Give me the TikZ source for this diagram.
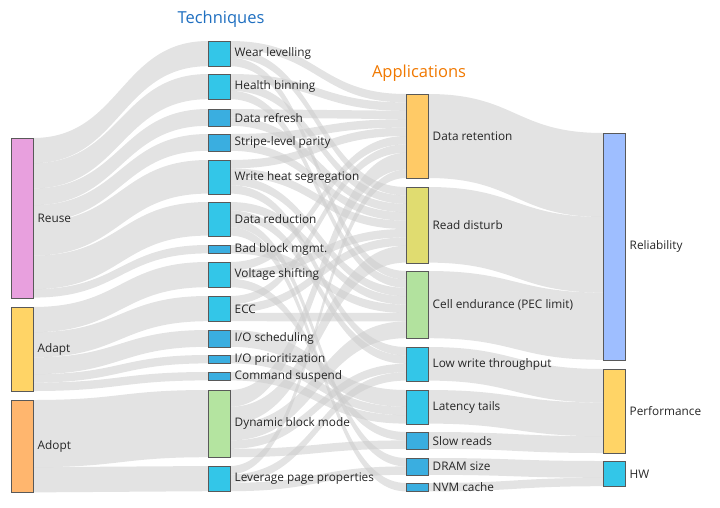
\documentclass[tikz,border=0pt]{standalone}
\usepackage{fontspec}
\setmainfont{Open Sans}
\begin{document}
\begin{tikzpicture}[x=1pt,y=-1pt,
 link/.style={fill=gray!40,opacity=0.55},
 box/.style={draw=black!65,line width=0.5pt,inner sep=0pt,minimum width=22pt,anchor=north west},
 lbl/.style={anchor=west,font=\fontsize{11.8}{13}\selectfont,text=black!85,inner sep=0pt,xshift=4pt}]
\useasboundingbox (0,0) rectangle (720,507);
\newcommand{\lnk}[5]{\fill[link] (#1,#2) .. controls ({(#1+#3)/2},#2) and ({(#1+#3)/2},#4) .. (#3,#4) -- (#3,#4+#5) .. controls ({(#1+#3)/2},#4+#5) and ({(#1+#3)/2},#2+#5) .. (#1,#2+#5) -- cycle;}
\newcommand{\nd}[6]{\node[box,fill=#5,minimum height=#4pt] (#1) at (#2,#3) {}; \node[lbl] at (#1.east) {#6};}
\definecolor{cy}{HTML}{33C6E8}\definecolor{cb}{HTML}{3AAEE0}
\definecolor{cpink}{HTML}{E8A0DE}\definecolor{cyel}{HTML}{FFD466}\definecolor{corg}{HTML}{FFB66E}
\definecolor{cgrn}{HTML}{B4E4A0}\definecolor{cret}{HTML}{FFCA66}\definecolor{crd}{HTML}{E0DC70}
\definecolor{cend}{HTML}{B2E29E}\definecolor{crel}{HTML}{9EBEFF}
\definecolor{tblue}{HTML}{1F6FC0}\definecolor{torange}{HTML}{F07800}
% col1 -> col2
\lnk{33}{138}{208}{41}{25.2}
\lnk{33}{163.2}{208}{74}{25.2}
\lnk{33}{188.4}{208}{109}{16.8}
\lnk{33}{205.2}{208}{134}{16.8}
\lnk{33}{222}{208}{160}{33.6}
\lnk{33}{255.6}{208}{202}{33.6}
\lnk{33}{289.2}{208}{245}{8.4}
\lnk{33}{307}{208}{262}{25.2}
\lnk{33}{332.2}{208}{296}{25.2}
\lnk{33}{357.4}{208}{330}{16.8}
\lnk{33}{374.2}{208}{355}{8.4}
\lnk{33}{382.6}{208}{372}{8.4}
\lnk{33}{400}{208}{390}{67.2}
\lnk{33}{467.2}{208}{466}{25.2}
% col2 -> col3
\lnk{230}{41}{406}{94}{8.4}
\lnk{230}{49.4}{406}{187}{8.4}
\lnk{230}{57.8}{406}{271}{8.4}
\lnk{230}{74}{406}{102.4}{8.4}
\lnk{230}{82.4}{406}{195.4}{8.4}
\lnk{230}{90.8}{406}{279.4}{8.4}
\lnk{230}{109}{406}{110.8}{8.4}
\lnk{230}{117.4}{406}{203.8}{8.4}
\lnk{230}{134}{406}{119.2}{8.4}
\lnk{230}{142.4}{406}{212.2}{8.4}
\lnk{230}{160}{406}{127.6}{8.4}
\lnk{230}{168.4}{406}{220.6}{8.4}
\lnk{230}{176.8}{406}{287.8}{8.4}
\lnk{230}{185.2}{406}{347}{8.4}
\lnk{230}{202}{406}{296.2}{8.4}
\lnk{230}{210.4}{406}{355.4}{8.4}
\lnk{230}{218.8}{406}{458}{8.4}
\lnk{230}{227.2}{406}{483}{8.4}
\lnk{230}{245}{406}{304.6}{8.4}
\lnk{230}{262}{406}{136}{8.4}
\lnk{230}{270.4}{406}{229}{8.4}
\lnk{230}{278.8}{406}{432}{8.4}
\lnk{230}{296}{406}{144.4}{8.4}
\lnk{230}{304.4}{406}{237.4}{8.4}
\lnk{230}{312.8}{406}{313}{8.4}
\lnk{230}{330}{406}{390}{16.8}
\lnk{230}{355}{406}{406.8}{8.4}
\lnk{230}{372}{406}{415.2}{8.4}
\lnk{230}{390}{406}{152.8}{16.8}
\lnk{230}{406.8}{406}{245.8}{16.8}
\lnk{230}{423.6}{406}{321.4}{16.8}
\lnk{230}{440.4}{406}{363.8}{8.4}
\lnk{230}{448.8}{406}{440.4}{8.4}
\lnk{230}{466}{406}{169.6}{8.4}
\lnk{230}{474.4}{406}{372.2}{8.4}
\lnk{230}{482.8}{406}{466.4}{8.4}
% col3 -> col4
\lnk{428}{94}{603}{133}{84}
\lnk{428}{187}{603}{217}{75.6}
\lnk{428}{271}{603}{292.6}{67.2}
\lnk{428}{347}{603}{369}{33.6}
\lnk{428}{390}{603}{402.6}{33.6}
\lnk{428}{432}{603}{436.2}{16.8}
\lnk{428}{458}{603}{461}{16.8}
\lnk{428}{483}{603}{477.8}{8.4}
% nodes col1
\nd{reuse}{11}{138}{159.6}{cpink}{Reuse}
\nd{adapt}{11}{307}{84}{cyel}{Adapt}
\nd{adopt}{11}{400}{92.4}{corg}{Adopt}
% col2
\nd{wl}{208}{41}{25.2}{cy}{Wear levelling}
\nd{hb}{208}{74}{25.2}{cy}{Health binning}
\nd{drf}{208}{109}{16.8}{cb}{Data refresh}
\nd{sp}{208}{134}{16.8}{cb}{Stripe-level parity}
\nd{whs}{208}{160}{33.6}{cy}{Write heat segregation}
\nd{dred}{208}{202}{33.6}{cy}{Data reduction}
\nd{bb}{208}{245}{8.4}{cb}{Bad block mgmt.}
\nd{vs}{208}{262}{25.2}{cy}{Voltage shifting}
\nd{ecc}{208}{296}{25.2}{cy}{ECC}
\nd{ios}{208}{330}{16.8}{cb}{I/O scheduling}
\nd{iop}{208}{355}{8.4}{cb}{I/O prioritization}
\nd{cs}{208}{372}{8.4}{cb}{Command suspend}
\nd{dbm}{208}{390}{67.2}{cgrn}{Dynamic block mode}
\nd{lpp}{208}{466}{25.2}{cy}{Leverage page properties}
% col3
\nd{ret}{406}{94}{84}{cret}{Data retention}
\nd{rd}{406}{187}{75.6}{crd}{Read disturb}
\nd{end}{406}{271}{67.2}{cend}{Cell endurance (PEC limit)}
\nd{lw}{406}{347}{33.6}{cy}{Low write throughput}
\nd{lat}{406}{390}{33.6}{cy}{Latency tails}
\nd{sr}{406}{432}{16.8}{cb}{Slow reads}
\nd{dram}{406}{458}{16.8}{cb}{DRAM size}
\nd{nvm}{406}{483}{8.4}{cb}{NVM cache}
% col4
\nd{rel}{603}{133}{226.8}{crel}{Reliability}
\nd{perf}{603}{369}{84}{cyel}{Performance}
\nd{hw}{603}{461}{25.2}{cy}{HW}
% titles
\node[font=\fontsize{16.5}{18}\selectfont,text=tblue] (t1) at (221,19) {Techniques};
\node[font=\fontsize{16.5}{18}\selectfont,text=torange] (t2) at (419,73) {Applications};
\end{tikzpicture}
\end{document}
